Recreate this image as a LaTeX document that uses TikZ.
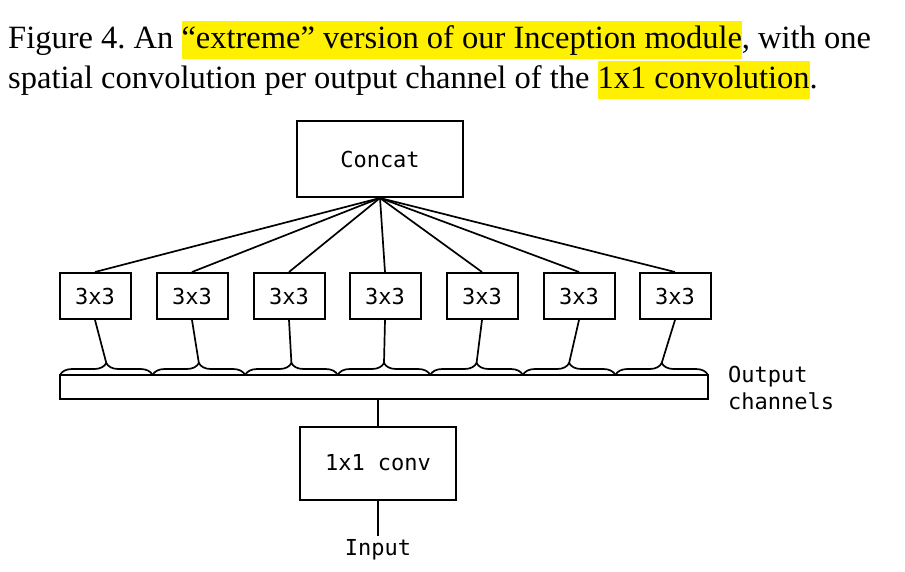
\documentclass[tikz,border=0pt]{standalone}
\usepackage{fontspec}
\setmainfont{Liberation Serif}
\newfontfamily\monofont{DejaVu Sans Mono}
\usetikzlibrary{positioning,decorations.pathreplacing}
\definecolor{hilite}{RGB}{255,240,0}
\newcommand{\hl}[1]{{\setlength{\fboxsep}{0pt}\colorbox{hilite}{\strut #1}}}
\tikzset{
  block/.style={rectangle, draw=black, line width=2pt, font=\monofont\fontsize{22}{27}\selectfont},
  small/.style={block, minimum width=71pt, minimum height=46pt},
  wire/.style={line width=1.7pt},
  chbrace/.style={line width=1.7pt, decorate, decoration={brace, amplitude=12pt}},
}
\begin{document}
\frenchspacing
\begin{tikzpicture}[x=1pt, y=-1pt]
  \useasboundingbox (0,0) rectangle (905,571);
  % caption
  \node[anchor=base west, inner sep=0pt, font=\fontsize{32.5}{38}\selectfont] (cap1) at (8,48)
        {Figure 4. An \hl{“extreme” version of our Inception module}, with one};
  \node[anchor=base west, inner sep=0pt, font=\fontsize{32.5}{38}\selectfont] (cap2) at (8,88)
        {spatial convolution per output channel of the \hl{1x1 convolution}.};
  % blocks
  \node[block, minimum width=166pt, minimum height=76pt] (Concat) at (380,159) {Concat};
  \node[block, minimum width=156pt, minimum height=73pt] (Conv) at (378,463) {1x1 conv};
  \node[block, minimum width=648pt, minimum height=24pt] (Bar) at (384,387) {};
  \node[font=\monofont\fontsize{22}{27}\selectfont, anchor=north west, align=left, inner sep=0pt] (Out) at (728,366) {Output\\channels};
  \node[font=\monofont\fontsize{22}{27}\selectfont] (Input) at (378,550) {Input};
  \draw[wire] (Input) -- (Conv);
  \draw[wire] (Conv.north) -- (Conv.north |- Bar.south);
  % branches
  \foreach \i/\x in {1/95,2/192,3/289,4/385,5/482,6/579,7/675} {
    \node[small] (B\i) at (\x,296) {3x3};
    \coordinate (L\i) at ({60+92.57*(\i-1)},375);
    \coordinate (R\i) at ({60+92.57*\i},375);
    \coordinate (T\i) at ({60+92.57*(\i-0.5)},363);
    \draw[chbrace] (L\i) -- (R\i);
    \draw[wire] (B\i.south) -- (T\i);
    \draw[wire] (B\i.north) -- (Concat.south);
  }
\end{tikzpicture}
\end{document}
